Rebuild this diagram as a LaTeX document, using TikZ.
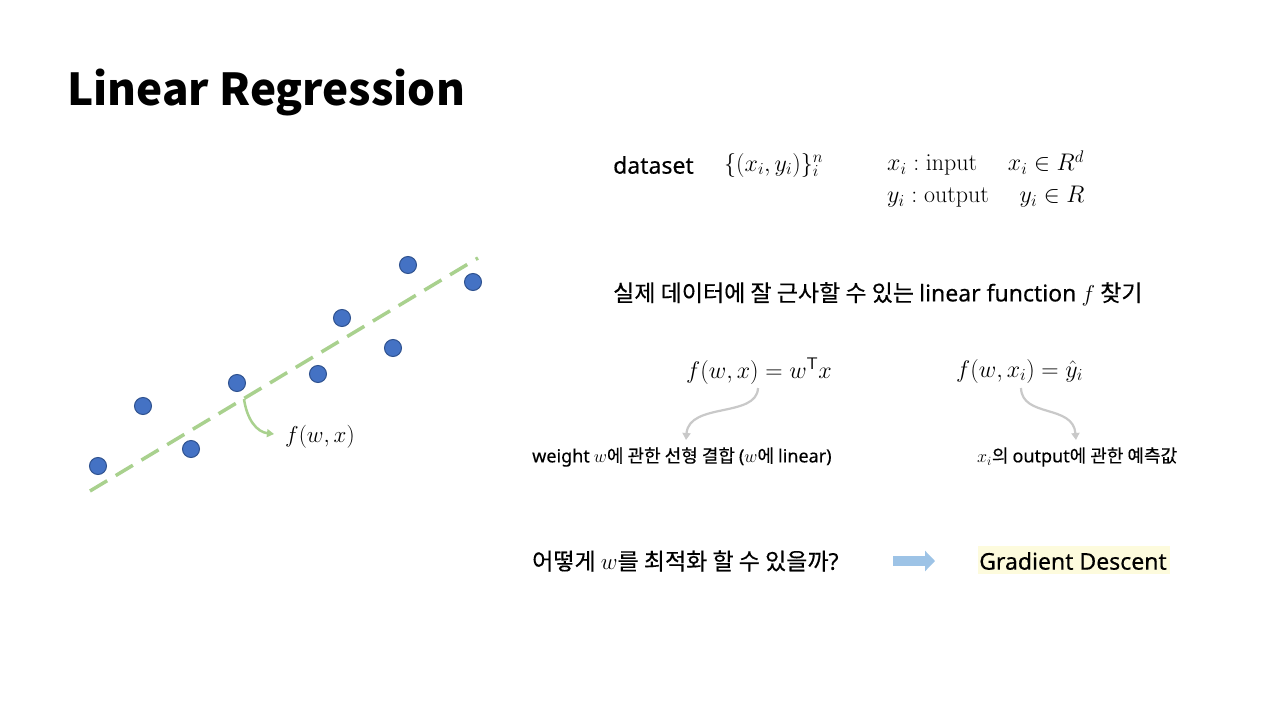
\RequirePackage{fix-cm}
\documentclass[tikz,border=0pt]{standalone}
\usepackage[no-math]{fontspec}
\setmainfont{Noto Sans CJK KR}[UprightFeatures={FakeBold=0.35}]
\newfontfamily\lat{Noto Sans}[UprightFeatures={FakeBold=0.35}]
\usetikzlibrary{arrows.meta}
\definecolor{dotfill}{HTML}{4472C4}
\definecolor{dotedge}{HTML}{2F528F}
\definecolor{fitgreen}{HTML}{A9D18E}
\definecolor{curvegray}{HTML}{C9C9C9}
\definecolor{blockblue}{HTML}{9DC3E6}
\definecolor{hilite}{HTML}{FDFBDD}
\begin{document}
\begin{tikzpicture}[x=1pt,y=-1pt,
  dot/.style={circle,fill=dotfill,draw=dotedge,line width=1pt,minimum size=17pt,inner sep=0pt},
  fitline/.style={fitgreen,line width=3.5pt,dash pattern=on 20pt off 10pt},
  greenarrow/.style={fitgreen,line width=2.5pt,-{Triangle[length=7pt,width=8pt]}},
  grayarrow/.style={curvegray,line width=2.2pt,-{Triangle[length=7pt,width=8pt]}},
  blockarrow/.style={blockblue,line width=10pt,-{Triangle[length=10pt,width=20pt]}},
  txt/.style={inner sep=0pt,anchor=west,font=\fontsize{23}{27}\selectfont},
  small/.style={inner sep=0pt,anchor=west,font=\fontsize{18}{21}\selectfont},
  mathtxt/.style={inner sep=0pt,font=\fontsize{24}{28}\selectfont}]
\useasboundingbox[fill=white] (0,0) rectangle (1280,720);

% title
\node[inner sep=0pt,anchor=base west,font=\fontsize{44}{53}\selectfont\bfseries] (title) at (67,105) {Linear Regression};

% scatter plot
\coordinate (la) at (90,491);
\coordinate (lb) at (478,258);
\draw[fitline] (la) -- (lb);
\node[dot] (p1) at (98,466) {};
\node[dot] (p2) at (143,406) {};
\node[dot] (p3) at (191,449) {};
\node[dot] (p4) at (237,383) {};
\node[dot] (p5) at (318,374) {};
\node[dot] (p6) at (342,318) {};
\node[dot] (p7) at (393,348) {};
\node[dot] (p8) at (408,265) {};
\node[dot] (p9) at (473,282) {};
\coordinate (gs) at (244,399);
\coordinate (ge) at (274,434);
\node[mathtxt,anchor=west,font=\fontsize{23}{27}\selectfont] (flabel) at (285,437) {$f(w,x)$};
\draw[greenarrow] (gs) .. controls (247,420) and (257,432) .. (ge);

% dataset
\node[txt] (dataset) at (613,165) {\lat dataset};
\node[mathtxt,anchor=west] (set) at (724,165) {$\{(x_i,y_i)\}_i^n$};
\node[mathtxt,anchor=west] (xin) at (887,163) {$x_i:\mathrm{input}\quad\; x_i\in R^d$};
\node[mathtxt,anchor=west] (yout) at (887,197) {$y_i:\mathrm{output}\quad\; y_i\in R$};

% heading
\node[txt] (head) at (613,294) {실제 데이터에 잘 근사할 수 있는 {\lat linear function} $f$ 찾기};

% formulas
\node[mathtxt,anchor=west] (f1) at (686,371) {$f(w,x)=w^{\mathsf{T}}x$};
\node[mathtxt,anchor=west] (f2) at (956,371) {$f(w,x_i)=\hat{y}_i$};
\node[small] (d1) at (532,457) {{\lat weight} $w$에 관한 선형 결합 {\lat(}$w$에 {\lat linear)}};
\node[small] (d2) at (977,457) {$x_i$의 {\lat output}에 관한 예측값};
\coordinate (c1s) at (758,388);
\coordinate (c1e) at (686,440);
\coordinate (c2s) at (1021,388);
\coordinate (c2e) at (1076,440);
\draw[grayarrow] (c1s) .. controls (757,418) and (689,402) .. (c1e);
\draw[grayarrow] (c2s) .. controls (1022,418) and (1073,404) .. (c2e);

% question
\node[txt] (q) at (532,561) {어떻게 $w$를 최적화 할 수 있을까{\lat ?}};
\coordinate (bs) at (893,561);
\coordinate (be) at (935,561);
\draw[blockarrow] (bs) -- (be);
\fill[hilite] (978,546) rectangle (1170,574);
\node[txt] (gd) at (979,561) {\lat Gradient Descent};
\end{tikzpicture}
\end{document}
